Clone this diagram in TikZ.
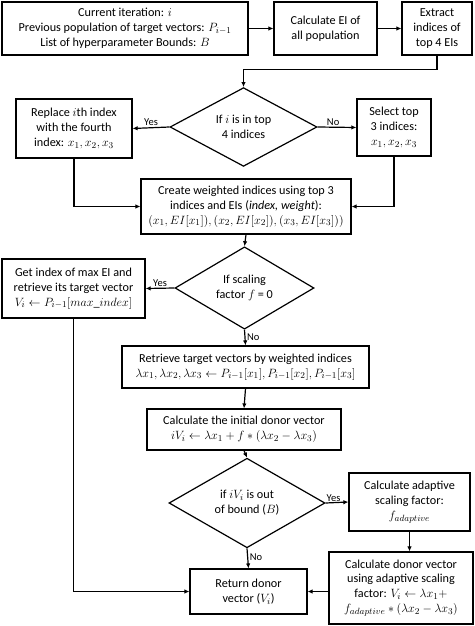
\documentclass[tikz,border=0pt]{standalone}
\usepackage{amsmath,amssymb}
\usepackage{fontspec}
\setmainfont{Carlito}
\usetikzlibrary{shapes.geometric,arrows.meta}

\begin{document}
\begin{tikzpicture}[x=1pt,y=-1pt,
    box/.style={draw, line width=1.2pt, align=center, inner sep=1pt,
        font=\fontsize{12.2}{14.8}\selectfont},
    cond/.style={diamond, draw, line width=1.2pt, align=center, inner sep=0pt,
        font=\fontsize{12.2}{14.8}\selectfont},
    flow/.style={-{Latex[length=5pt,width=4.5pt]}, line width=1.2pt},
    lbl/.style={font=\fontsize{10.5}{12}\selectfont, inner sep=1.5pt}]
    \useasboundingbox (0,0) rectangle (474,626);

    % top row
    \node[box, minimum width=246pt, minimum height=53pt] (inputs) at (125,28.5)
        {Current iteration: $i$\\Previous population of target vectors: $P_{i-1}$\\List of hyperparameter Bounds: $B$};
    \node[box, minimum width=103pt, minimum height=53pt] (calcei) at (325.5,28.5)
        {Calculate EI of\\all population};
    \node[box, minimum width=70pt, minimum height=53pt] (extract) at (437,28.5)
        {Extract\\indices of\\top 4 EIs};

    % first decision
    \node[cond, minimum width=147pt, minimum height=78pt] (intop) at (243.5,127)
        {If $i$ is in top\\4 indices};
    \node[box, minimum width=116pt, minimum height=59pt] (replace) at (74,128.5)
        {Replace $i$th index\\with the fourth\\index: $x_1,x_2,x_3$};
    \node[box, minimum width=74pt, minimum height=57pt] (select) at (394,127.5)
        {Select top\\3 indices:\\$x_1,x_2,x_3$};
    \node[box, minimum width=210pt, minimum height=55pt] (weighted) at (246,206.5)
        {Create weighted indices using top 3\\indices and EIs (\textit{index, weight}):\\$(x_1,EI[x_1]),(x_2,EI[x_2]),(x_3,EI[x_3]))$};

    % scaling factor
    \node[cond, minimum width=139pt, minimum height=70pt] (fzero) at (244.5,288)
        {If scaling\\factor $f$ = 0};
    \node[box, minimum width=143pt, minimum height=59pt] (maxei) at (73.5,288.5)
        {Get index of max EI and\\retrieve its target vector\\$V_i \leftarrow P_{i-1}[max\_index]$};
    \node[box, minimum width=247pt, minimum height=42pt] (retrieve) at (245.5,367)
        {Retrieve target vectors by weighted indices\\$\lambda x_1,\lambda x_2,\lambda x_3 \leftarrow P_{i-1}[x_1],P_{i-1}[x_2],P_{i-1}[x_3]$};
    \node[box, minimum width=194pt, minimum height=41pt] (initial) at (244,429.5)
        {Calculate the initial donor vector\\$iV_i \leftarrow \lambda x_1 + f * (\lambda x_2 - \lambda x_3)$};

    % bound check
    \node[cond, minimum width=156pt, minimum height=70pt] (bound) at (247,503)
        {if $iV_i$ is out\\of bound ($B$)};
    \node[box, minimum width=121pt, minimum height=58pt] (adaptive) at (409.5,502)
        {Calculate adaptive\\scaling factor:\\$f_{adaptive}$};
    \node[box, minimum width=144pt, minimum height=72pt] (donor) at (401,588)
        {Calculate donor vector\\using adaptive scaling\\factor: $V_i \leftarrow \lambda x_1 +$\\$f_{adaptive} * (\lambda x_2 - \lambda x_3)$};
    \node[box, minimum width=117pt, minimum height=45pt] (return) at (248.5,591.5)
        {Return donor\\vector ($V_i$)};

    % draw connectors
    \draw[flow] (inputs.east) -- (calcei.west);
    \draw[flow] (calcei.east) -- (extract.west);
    \draw[flow] (extract.south) -- ++(0,14) -| (intop.north);
    \draw[flow] (intop.west) -- node[lbl, above] {Yes} (replace.east);
    \draw[flow] (intop.east) -- node[lbl, above, pos=0.4] {No} (select.west);
    \draw[flow] (replace.south) |- (weighted.west);
    \draw[flow] (select.south) |- (weighted.east);
    \draw[flow] (weighted.south) -- (fzero.north);
    \draw[flow] (fzero.west) -- node[lbl, above] {Yes} (maxei.east);
    \draw[flow] (fzero.south) -- node[lbl, right] {No} (retrieve.north);
    \draw[flow] (retrieve.south) -- (initial.north);
    \draw[flow] (initial.south) -- (bound.north);
    \draw[flow] (bound.east) -- node[lbl, above, pos=0.35, inner sep=0.5pt] {Yes} (adaptive.west);
    \draw[flow] (adaptive.south) -- (adaptive.south |- donor.north);
    \draw[flow] (bound.south) -- node[lbl, right, pos=0.45] {No} (return.north);
    \draw[flow] (maxei.south) |- (return.west);
    \draw[flow] (donor.west |- return.east) -- (return.east);
\end{tikzpicture}
\end{document}
